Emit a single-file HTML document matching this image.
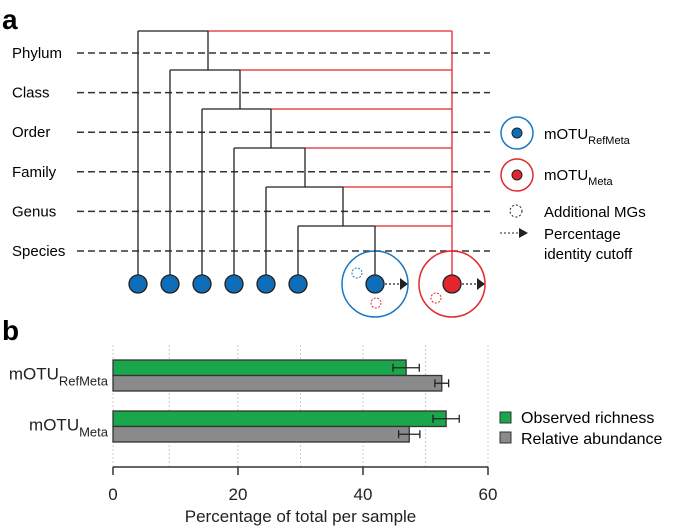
<!DOCTYPE html>
<html><head><meta charset="utf-8"><style>
body{margin:0;background:#fff;overflow:hidden;}
svg{display:block;font-family:"Liberation Sans",Arial,sans-serif;}
</style></head><body>
<svg width="685" height="527" viewBox="0 0 685 527">
<text x="2" y="29" font-size="28" font-weight="bold">a</text>
<text x="2" y="340" font-size="28" font-weight="bold">b</text>
<g id="tree"></g>
<g>
 <circle cx="517" cy="133" r="16" fill="none" stroke="#1a78c2" stroke-width="1.5"/>
 <circle cx="517" cy="133" r="5" fill="#0d6db8" stroke="#222"/>
 <text x="544" y="139" font-size="15">mOTU<tspan font-size="11" dy="5">RefMeta</tspan></text>
 <circle cx="517" cy="175" r="16" fill="none" stroke="#e3262d" stroke-width="1.5"/>
 <circle cx="517" cy="175" r="5" fill="#e3262d" stroke="#222"/>
 <text x="544" y="180" font-size="15">mOTU<tspan font-size="11" dy="5">Meta</tspan></text>
 <circle cx="516" cy="211" r="6" fill="none" stroke="#222" stroke-dasharray="2,2"/>
 <text x="544" y="217" font-size="15">Additional MGs</text>
 <line x1="500" y1="233" x2="520" y2="233" stroke="#222" stroke-dasharray="2,2"/>
 <polygon points="519,228 528,233 519,238" fill="#222"/>
 <text x="544" y="239" font-size="15">Percentage</text>
 <text x="544" y="259" font-size="15">identity cutoff</text>
</g>
<g id="chart"></g>
<g>
 <rect x="500" y="412" width="11" height="11" fill="#1aa64a" stroke="#333"/>
 <text x="521" y="423" font-size="16">Observed richness</text>
 <rect x="500" y="432" width="11" height="11" fill="#8a8a8c" stroke="#333"/>
 <text x="521" y="444" font-size="16">Relative abundance</text>
</g>
</svg>
<script>
const categories=["RefMeta","Meta"];
const richness=[46.9,53.3];
const richnessErr=[2.1,2.1];
const abundance=[52.6,47.4];
const abundanceErr=[1.1,1.7];
const xTicks=[0,20,40,60];
const gridVals=[0,9,20,30,40,50,60];
const ranks=["Phylum","Class","Order","Family","Genus","Species"];

const NS="http://www.w3.org/2000/svg";
function mk(p,t,a){const e=document.createElementNS(NS,t);for(const k in a)e.setAttribute(k,a[k]);p.appendChild(e);return e;}

// Panel a
const tree=document.getElementById('tree');
ranks.forEach((r,i)=>{
 const y=53+i*39.6;
 const l=mk(tree,'line',{x1:77,y1:y,x2:490,y2:y,stroke:'#333','stroke-width':1.5,'stroke-dasharray':'7,4'});
 
 
 const t=mk(tree,'text',{x:12,y:y+5,'font-size':15});
 t.textContent=r;
 
 
});
const leaves=[138,170,202,234,266,298,375];
const nodeX=[208,240,271,305,343,375];
const nodeY=[31,70,109,148,187,226];
const K='#222',R='#e3262d';
mk(tree,'circle',{cx:375,cy:284,r:33,fill:'none',stroke:'#1a78c2','stroke-width':1.5});
mk(tree,'circle',{cx:452,cy:284,r:33,fill:'none',stroke:R,'stroke-width':1.5});
for(let i=0;i<6;i++){
 mk(tree,'line',{x1:leaves[i],y1:nodeY[i],x2:leaves[i],y2:284,stroke:K,'stroke-width':1.3});
 mk(tree,'line',{x1:leaves[i],y1:nodeY[i],x2:nodeX[i],y2:nodeY[i],stroke:K,'stroke-width':1.3});
 mk(tree,'line',{x1:nodeX[i],y1:nodeY[i],x2:452,y2:nodeY[i],stroke:R,'stroke-width':1.3});
 const ny=i<5?nodeY[i+1]:284;
 mk(tree,'line',{x1:nodeX[i],y1:nodeY[i],x2:nodeX[i],y2:ny,stroke:K,'stroke-width':1.3});
}
mk(tree,'line',{x1:452,y1:31,x2:452,y2:284,stroke:R,'stroke-width':1.3});
leaves.forEach(x=>{
 const c=mk(tree,'circle',{cx:x,cy:284,r:9,fill:'#0d6db8',stroke:'#222','stroke-width':1.3});
 
 
});
mk(tree,'circle',{cx:452,cy:284,r:9,fill:R,stroke:'#222','stroke-width':1.3});
[375,452].forEach(x=>{
 mk(tree,'line',{x1:x+10,y1:284,x2:x+25,y2:284,stroke:'#222','stroke-width':1.3,'stroke-dasharray':'2,2'});
 mk(tree,'polygon',{points:`${x+25},278 ${x+33},284 ${x+25},290`,fill:'#222'});
});
mk(tree,'circle',{cx:357,cy:273,r:5,fill:'none',stroke:'#1a78c2','stroke-dasharray':'2,1.5'});
mk(tree,'circle',{cx:376,cy:303,r:5,fill:'none',stroke:R,'stroke-dasharray':'2,1.5'});
mk(tree,'circle',{cx:436,cy:298,r:5,fill:'none',stroke:R,'stroke-dasharray':'2,1.5'});

// Panel b
const ch=document.getElementById('chart');
const x0=113,x1=488,axisY=467;
const X=v=>x0+v*(x1-x0)/60;
const groupTop=[360,411];
const barH=15.5;
gridVals.forEach(v=>{
 const g=mk(ch,'line',{x1:X(v),y1:345,x2:X(v),y2:axisY,stroke:'#ccc','stroke-dasharray':'2,2'});
 
 
});
mk(ch,'line',{x1:X(0),y1:axisY,x2:X(60),y2:axisY,stroke:'#333','stroke-width':1.5});
xTicks.forEach(v=>{
 mk(ch,'line',{x1:X(v),y1:axisY,x2:X(v),y2:axisY+8,stroke:'#333','stroke-width':1.5});
 const t=mk(ch,'text',{x:X(v),y:500,'font-size':17,'text-anchor':'middle',fill:'#222'});
 t.textContent=v;
 
 
});
const xt=mk(ch,'text',{x:X(30),y:522,'font-size':17,'text-anchor':'middle',fill:'#222'});
xt.textContent='Percentage of total per sample';



function errBar(v,e,cy){
 mk(ch,'line',{x1:X(v-e),y1:cy,x2:X(v+e),y2:cy,stroke:'#222','stroke-width':1.3});
 mk(ch,'line',{x1:X(v-e),y1:cy-4,x2:X(v-e),y2:cy+4,stroke:'#222','stroke-width':1.3});
 mk(ch,'line',{x1:X(v+e),y1:cy-4,x2:X(v+e),y2:cy+4,stroke:'#222','stroke-width':1.3});
}
categories.forEach((c,i)=>{
 const y=groupTop[i];
 const g=mk(ch,'rect',{x:X(0),y:y,width:X(richness[i])-X(0),height:barH,fill:'#1aa64a',stroke:'#333','stroke-width':1.3});
 
 
 const b=mk(ch,'rect',{x:X(0),y:y+barH,width:X(abundance[i])-X(0),height:barH,fill:'#8a8a8c',stroke:'#333','stroke-width':1.3});
 
 
 errBar(richness[i],richnessErr[i],y+barH/2);
 errBar(abundance[i],abundanceErr[i],y+barH*1.5);
 const t=mk(ch,'text',{x:108,y:y+barH+4,'font-size':17,'text-anchor':'end',fill:'#222'});
 t.innerHTML='mOTU<tspan font-size="13" dy="6">'+c+'</tspan>';
 
 
});
</script>
</body></html>
